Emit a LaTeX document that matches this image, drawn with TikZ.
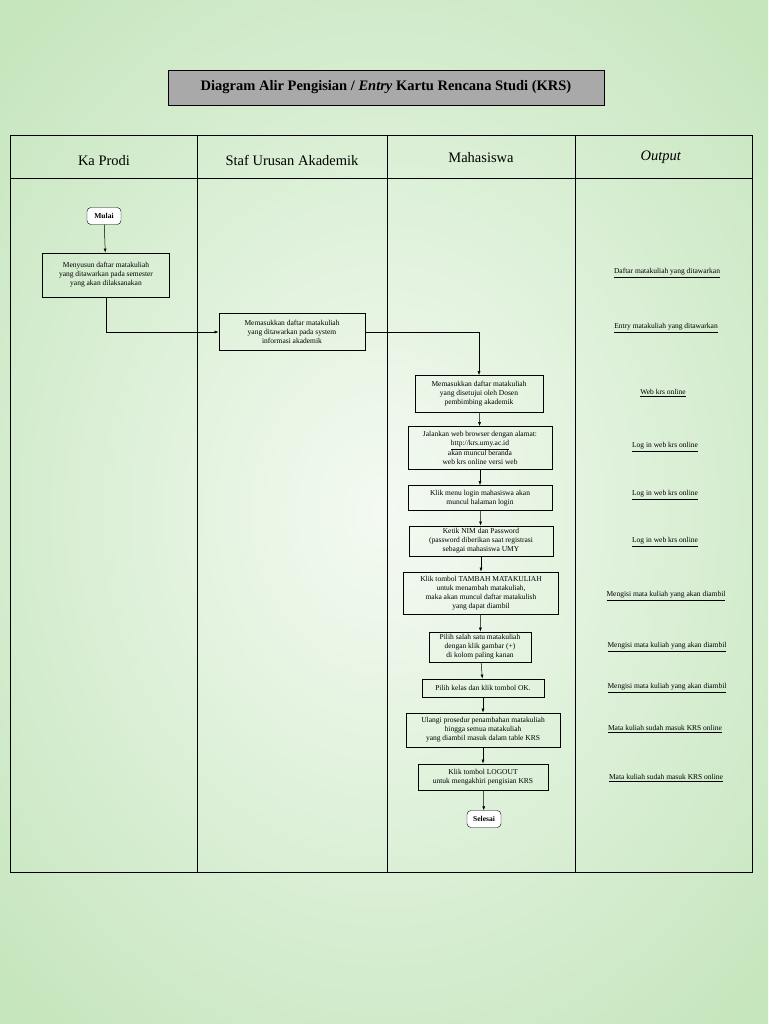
\documentclass[tikz,border=0pt]{standalone}
\usepackage{fontspec}
\setmainfont{Liberation Serif}
\usetikzlibrary{arrows.meta}
\definecolor{bgout}{HTML}{C6E6BE}
\definecolor{bgin}{HTML}{F4FAF2}
\definecolor{titlegray}{HTML}{A9A9A9}
\tikzset{
  procbox/.style={draw, line width=0.8pt, align=center, font=\fontsize{7.5}{9}\selectfont, inner sep=1pt},
  term/.style={draw, rounded corners=4pt, fill=white, font=\bfseries\fontsize{7.5}{9}\selectfont, minimum width=34pt, minimum height=17pt},
  outlbl/.style={font=\fontsize{7.5}{9}\selectfont},
  hdr/.style={font=\fontsize{14.5}{16}\selectfont},
  flow/.style={-{Latex[length=4pt,width=3pt]}, line width=0.5pt},
  grid/.style={line width=0.8pt}
}
\begin{document}
\begin{tikzpicture}[x=1pt,y=-1pt]
\useasboundingbox (0,0) rectangle (768,1024);
\begin{scope}
\clip (0,0) rectangle (768,1024);
\shade[inner color=bgin, outer color=bgout] (-150,-150) rectangle (918,1174);
\end{scope}
% title
\node[draw, line width=0.8pt, fill=titlegray, minimum width=436pt, minimum height=35pt, font=\bfseries\fontsize{14.5}{16}\selectfont] (title) at (386,87.5) {Diagram Alir Pengisian / \textit{Entry} Kartu Rencana Studi (KRS)};
% table
\draw[grid] (10,135) rectangle (752,872);
\draw[grid] (10,178) -- (752,178);
\foreach \x in {197,387,575} \draw[grid] (\x,135) -- (\x,872);
\node[hdr] (h1) at (104,161) {Ka Prodi};
\node[hdr] (h2) at (292,160) {Staf Urusan Akademik};
\node[hdr] (h3) at (481,158) {Mahasiswa};
\node[hdr] (h4) at (661,157) {\textit{Output}};
% nodes
\node[term] (mulai) at (104,216) {Mulai};
\node[procbox, minimum width=127pt, minimum height=44pt] (b1) at (106,275) {Menyusun daftar matakuliah\\yang ditawarkan pada semester\\yang akan dilaksanakan};
\node[procbox, minimum width=146pt, minimum height=37pt] (b2) at (292,332) {Memasukkan daftar matakuliah\\yang ditawarkan pada system\\informasi akademik};
\node[procbox, minimum width=128pt, minimum height=37pt] (b3) at (479,394) {Memasukkan daftar matakuliah\\yang disetujui oleh Dosen\\pembimbing akademik};
\node[procbox, minimum width=144pt, minimum height=43pt, font=\fontsize{7.5}{9.5}\selectfont] (b4) at (480,448) {Jalankan web browser dengan alamat:\\\underline{http://krs.umy.ac.id}\\akan muncul beranda\\web krs online versi web};
\node[procbox, minimum width=144pt, minimum height=25pt] (b5) at (480,498) {Klik menu login mahasiswa akan\\muncul halaman login};
\node[procbox, minimum width=144pt, minimum height=30pt] (b6) at (481,541) {Ketik NIM dan Password\\(password diberikan saat registrasi\\sebagai mahasiswa UMY};
\node[procbox, minimum width=155pt, minimum height=42pt] (b7) at (481,593) {Klik tombol TAMBAH MATAKULIAH\\untuk menambah matakuliah,\\maka akan muncul daftar matakulish\\yang dapat diambil};
\node[procbox, minimum width=102pt, minimum height=30pt] (b8) at (480,647) {Pilih salah satu matakuliah\\dengan klik gambar (+)\\di kolom paling kanan};
\node[procbox, minimum width=122pt, minimum height=18pt] (b9) at (483,688) {Pilih kelas dan klik tombol OK.};
\node[procbox, minimum width=154pt, minimum height=34pt] (b10) at (483,730) {Ulangi prosedur penambahan matakuliah\\hingga semua matakuliah\\yang diambil masuk dalam table KRS};
\node[procbox, minimum width=130pt, minimum height=26pt] (b11) at (483,777) {Klik tombol LOGOUT\\untuk mengakhiri pengisian KRS};
\node[term] (selesai) at (484,819) {Selesai};
% connectors
\draw[flow] (mulai) -- (b1);
\draw[flow] (b1.south) |- (b2.west);
\draw[flow] (b2.east) -| (b3.north);
\draw[flow] (b3) -- (b4);
\draw[flow] (b4) -- (b5);
\draw[flow] (b5) -- (b6);
\draw[flow] (b6) -- (b7);
\draw[flow] (b7) -- (b8);
\draw[flow] (b8) -- (b9);
\draw[flow] (b9) -- (b10);
\draw[flow] (b10) -- (b11);
\draw[flow] (b11) -- (selesai);
% outputs
\node[outlbl] (o1) at (667,273) {\underline{Daftar matakuliah yang ditawarkan}};
\node[outlbl] (o2) at (666,328) {\underline{Entry matakuliah yang ditawarkan}};
\node[outlbl] (o3) at (663,393) {\underline{Web krs online}};
\node[outlbl] (o4) at (665,447) {\underline{Log in web krs online}};
\node[outlbl] (o5) at (665,495) {\underline{Log in web krs online}};
\node[outlbl] (o6) at (665,542) {\underline{Log in web krs online}};
\node[outlbl] (o7) at (666,596) {\underline{Mengisi mata kuliah yang akan diambil}};
\node[outlbl] (o8) at (667,647) {\underline{Mengisi mata kuliah yang akan diambil}};
\node[outlbl] (o9) at (667,688) {\underline{Mengisi mata kuliah yang akan diambil}};
\node[outlbl] (o10) at (665,729) {\underline{Mata kuliah sudah masuk KRS online}};
\node[outlbl] (o11) at (666,778) {\underline{Mata kuliah sudah masuk KRS online}};
\end{tikzpicture}
\end{document}
